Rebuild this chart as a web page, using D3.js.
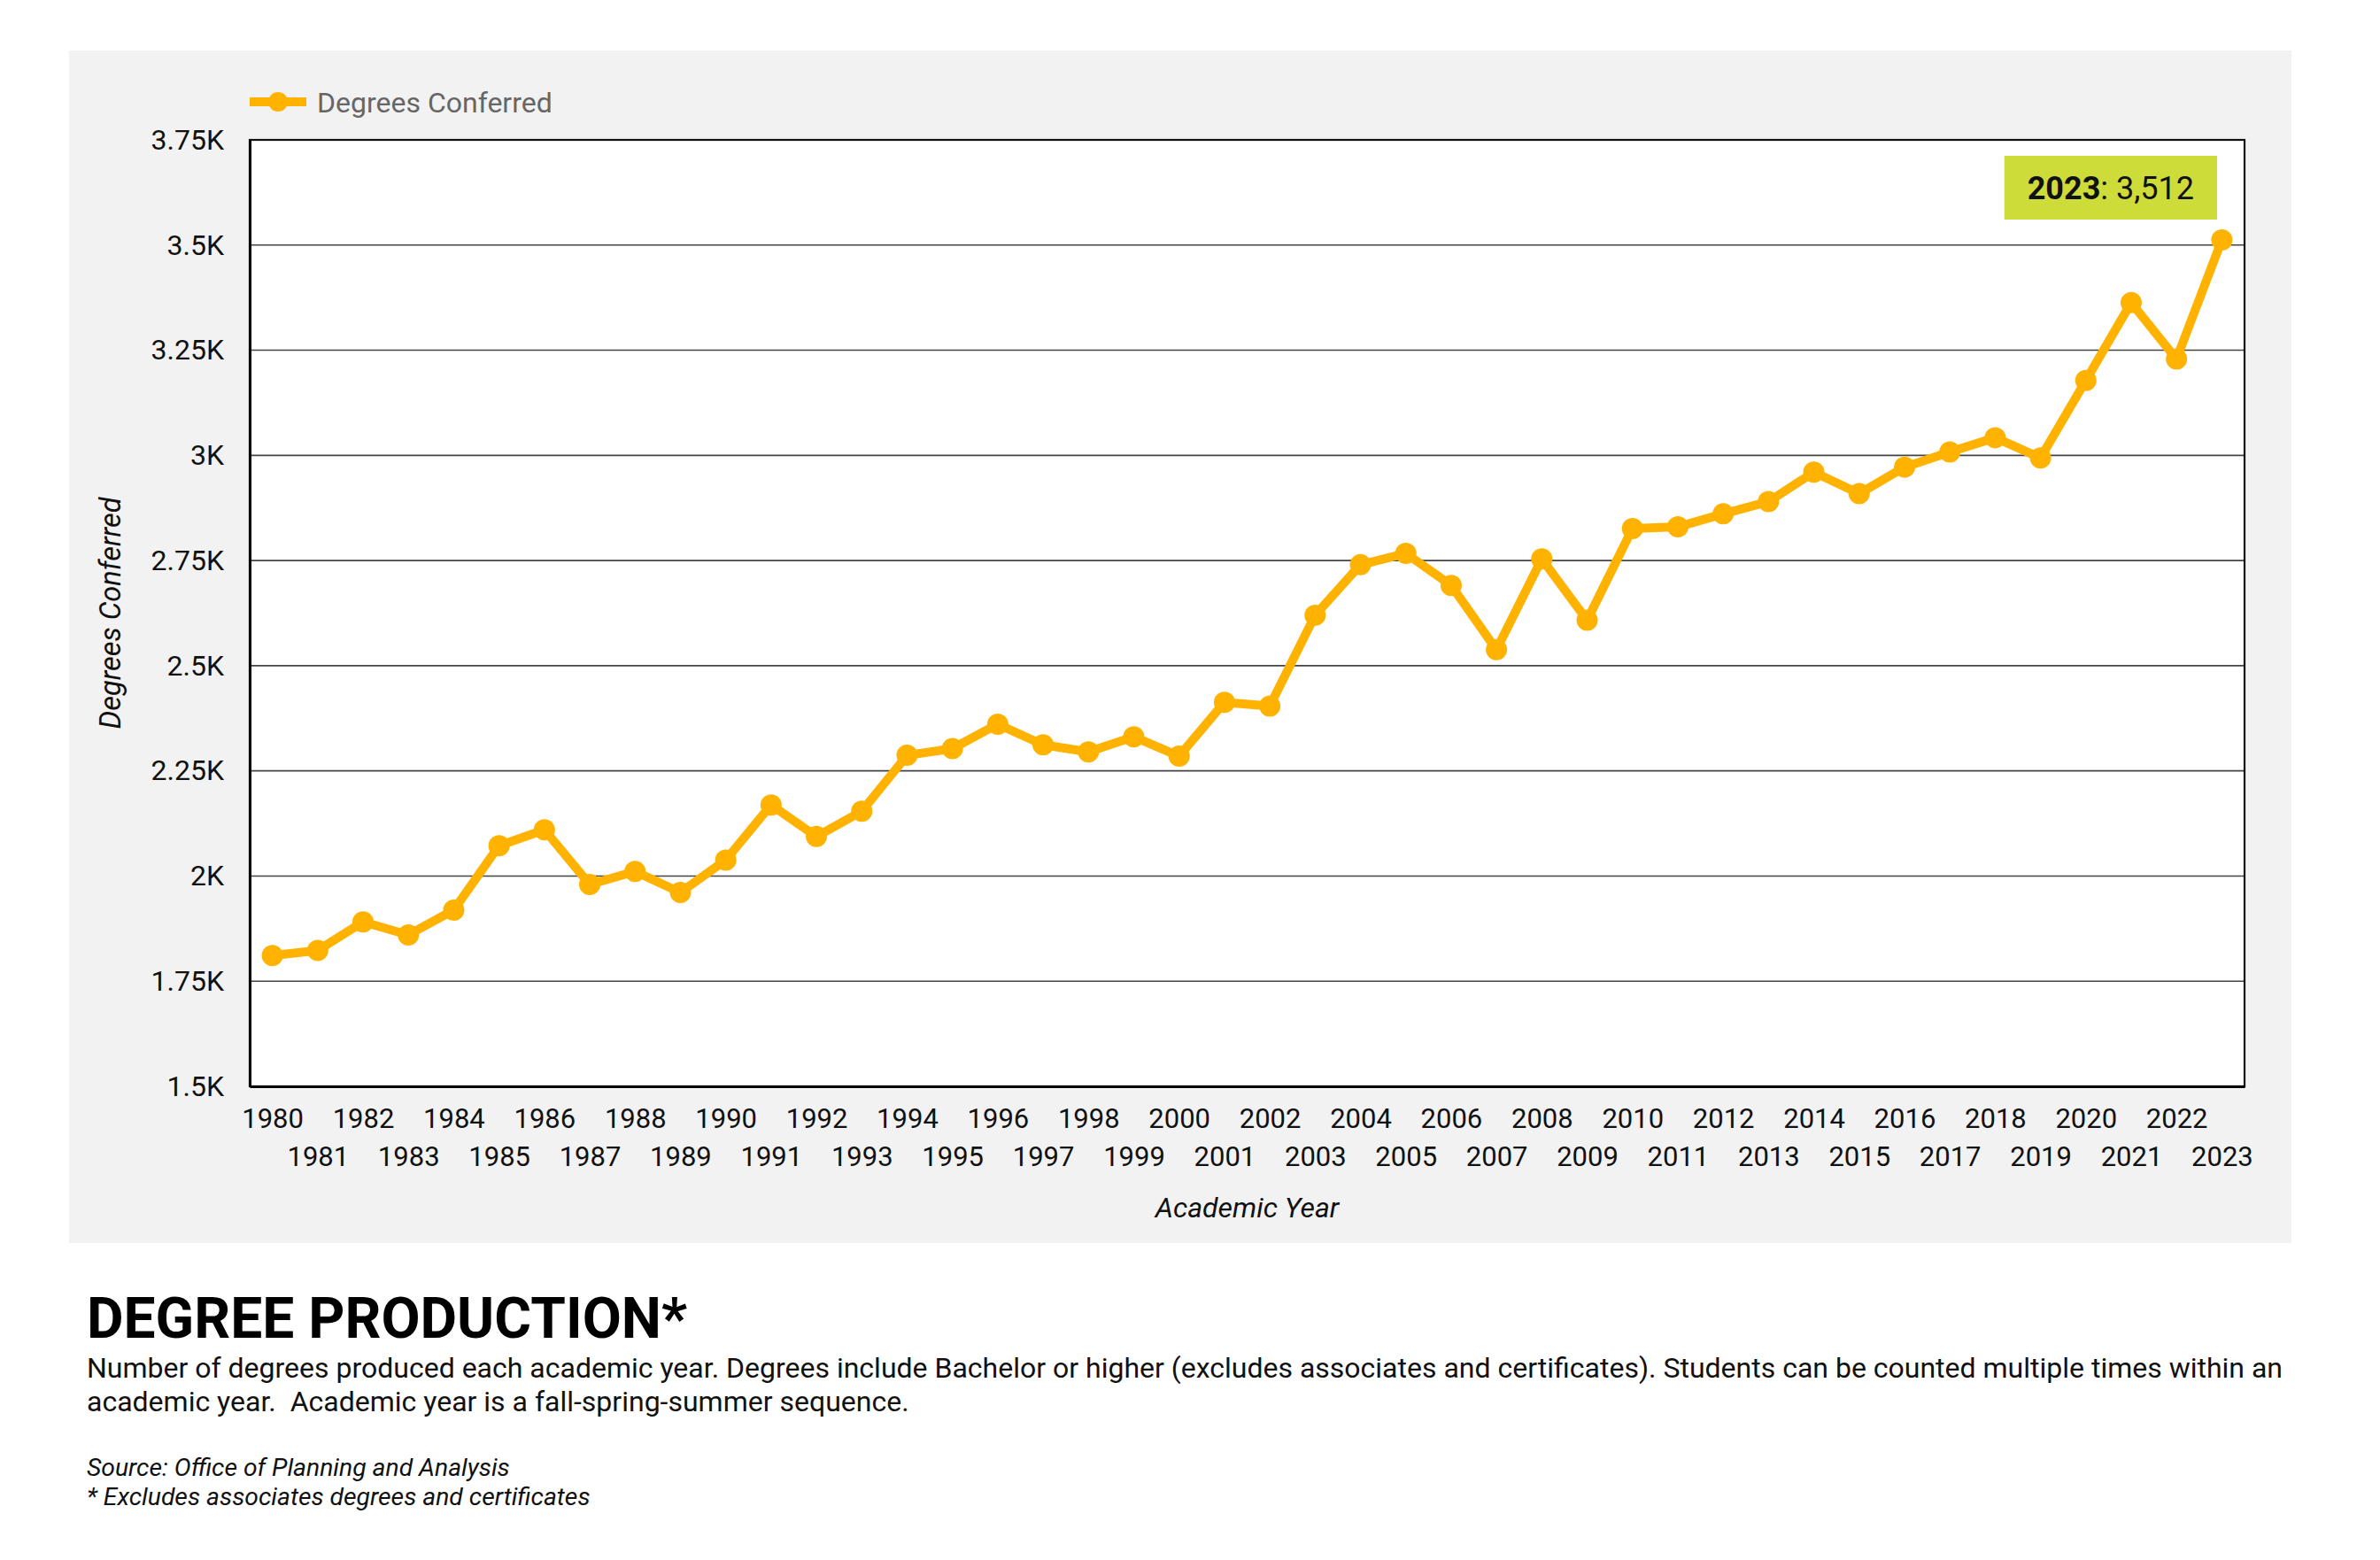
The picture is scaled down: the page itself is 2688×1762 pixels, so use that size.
<!DOCTYPE html>
<html>
<head>
<meta charset="utf-8">
<script src="https://cdn.jsdelivr.net/npm/d3@7"></script>
<style>
  html, body { margin: 0; padding: 0; background: #ffffff; }
  svg { display: block; font-family: Roboto, "Noto Sans", sans-serif; }
  svg text { white-space: pre; }
</style>
</head>
<body>
<svg id="chart" width="2688" height="1762"></svg>
<script>
// ---- DATA ----
const years = [1980,1981,1982,1983,1984,1985,1986,1987,1988,1989,1990,1991,1992,1993,1994,1995,1996,1997,1998,1999,2000,2001,2002,2003,2004,2005,2006,2007,2008,2009,2010,2011,2012,2013,2014,2015,2016,2017,2018,2019,2020,2021,2022,2023];
const degreesConferred = [1811,1823,1891,1860,1919,2072,2110,1980,2011,1961,2038,2169,2094,2154,2287,2303,2361,2312,2295,2331,2285,2413,2404,2620,2740,2767,2691,2538,2754,2608,2826,2830,2861,2890,2960,2909,2972,3008,3042,2994,3178,3363,3229,3512];
const yTickValues = [1500,1750,2000,2250,2500,2750,3000,3250,3500,3750];
const yTickLabels = ["1.5K","1.75K","2K","2.25K","2.5K","2.75K","3K","3.25K","3.5K","3.75K"];
const seriesName = "Degrees Conferred";
const xAxisTitle = "Academic Year";
const yAxisTitle = "Degrees Conferred";
const annotationYear = "2023";
const annotationValue = "3,512";
const titleText = "DEGREE PRODUCTION*";
const descriptionLines = [
  "Number of degrees produced each academic year. Degrees include Bachelor or higher (excludes associates and certificates). Students can be counted multiple times within an",
  "academic year.  Academic year is a fall-spring-summer sequence."
];
const footnoteLines = [
  "Source: Office of Planning and Analysis",
  "* Excludes associates degrees and certificates"
];

// ---- LAYOUT ----
const svg = d3.select("#chart");
const panel = {x: 78, y: 57, w: 2510, h: 1347};
const plot = {left: 282, top: 158, right: 2535, bottom: 1227};
const lineColor = "#FFB300";

svg.append("rect").attr("x", panel.x).attr("y", panel.y).attr("width", panel.w).attr("height", panel.h).attr("fill", "#f2f2f2");
svg.append("rect").attr("x", plot.left).attr("y", plot.top).attr("width", plot.right - plot.left).attr("height", plot.bottom - plot.top).attr("fill", "#ffffff");

const x = d3.scalePoint().domain(years).range([plot.left, plot.right]).padding(0.5);
const y = d3.scaleLinear().domain([1500, 3750]).range([plot.bottom, plot.top]);

// gridlines
svg.append("g").selectAll("line").data(yTickValues.slice(1, -1)).join("line")
  .attr("x1", plot.left).attr("x2", plot.right)
  .attr("y1", d => y(d)).attr("y2", d => y(d))
  .attr("stroke", "#444").attr("stroke-width", 1.6);

// border
svg.append("rect").attr("x", plot.left).attr("y", plot.top).attr("width", plot.right - plot.left).attr("height", plot.bottom - plot.top)
  .attr("fill", "none").attr("stroke", "#111").attr("stroke-width", 2.2);

// y axis
const yAxis = d3.axisLeft(y).tickValues(yTickValues)
  .tickFormat(d => yTickLabels[yTickValues.indexOf(d)])
  .tickSize(0).tickPadding(29);
const gy = svg.append("g").attr("transform", `translate(${plot.left},0)`).call(yAxis);
gy.select(".domain").attr("stroke", "#000").attr("stroke-width", 3);
gy.selectAll("text").attr("font-size", 32).attr("fill", "#111").attr("font-family", "Roboto");

// x axis (two staggered rows)
const xAxis = d3.axisBottom(x).tickSize(0).tickPadding(25).tickFormat(d => String(d));
const gx = svg.append("g").attr("transform", `translate(0,${plot.bottom})`).call(xAxis);
gx.select(".domain").attr("stroke", "#000").attr("stroke-width", 3);
gx.selectAll("text").attr("font-size", 31).attr("fill", "#111").attr("font-family", "Roboto")
  .attr("dy", (d, i) => (i % 2 === 0 ? 22 : 65));

// axis titles
svg.append("text").attr("x", (plot.left + plot.right) / 2).attr("y", 1375)
  .attr("text-anchor", "middle").attr("font-size", 32).attr("font-style", "italic").attr("fill", "#111")
  .text(xAxisTitle);
svg.append("text").attr("transform", `translate(136,${(plot.top + plot.bottom) / 2}) rotate(-90)`)
  .attr("text-anchor", "middle").attr("font-size", 32.5).attr("font-style", "italic").attr("fill", "#111")
  .text(yAxisTitle);

// line + markers
const line = d3.line().x((d, i) => x(years[i])).y(d => y(d));
svg.append("path").datum(degreesConferred).attr("d", line)
  .attr("fill", "none").attr("stroke", lineColor).attr("stroke-width", 10).attr("stroke-linejoin", "round");
svg.append("g").selectAll("circle").data(degreesConferred).join("circle")
  .attr("cx", (d, i) => x(years[i])).attr("cy", d => y(d)).attr("r", 12).attr("fill", lineColor);

// legend
const lg = svg.append("g");
lg.append("line").attr("x1", 282).attr("x2", 346).attr("y1", 115).attr("y2", 115).attr("stroke", lineColor).attr("stroke-width", 10);
lg.append("circle").attr("cx", 314).attr("cy", 115).attr("r", 11).attr("fill", lineColor);
lg.append("text").attr("x", 358).attr("y", 127).attr("font-size", 32).attr("fill", "#666").text(seriesName);

// annotation
const ann = svg.append("g");
const annRect = ann.append("rect").attr("fill", "#cddc39");
const annText = ann.append("text").attr("font-size", 36).attr("fill", "#111");
annText.append("tspan").attr("font-weight", "bold").text(annotationYear);
annText.append("tspan").text(": " + annotationValue);
const tw = annText.node().getComputedTextLength();
const boxRight = plot.right - 31, boxTop = plot.top + 18, boxH = 72, pad = 26;
annRect.attr("x", boxRight - tw - 2 * pad).attr("y", boxTop).attr("width", tw + 2 * pad).attr("height", boxH);
annText.attr("x", boxRight - tw - pad).attr("y", boxTop + 49);

// title and text
svg.append("text").attr("x", 98).attr("y", 1511).attr("font-size", 64).attr("font-weight", "bold").attr("fill", "#000").text(titleText);
svg.append("g").selectAll("text").data(descriptionLines).join("text")
  .attr("x", 98).attr("y", (d, i) => 1556 + i * 38).attr("font-size", 32).attr("fill", "#111").text(d => d);
svg.append("g").selectAll("text").data(footnoteLines).join("text")
  .attr("x", 98).attr("y", (d, i) => 1667 + i * 33).attr("font-size", 28.3).attr("font-style", "italic").attr("fill", "#111").text(d => d);
</script>
</body>
</html>
